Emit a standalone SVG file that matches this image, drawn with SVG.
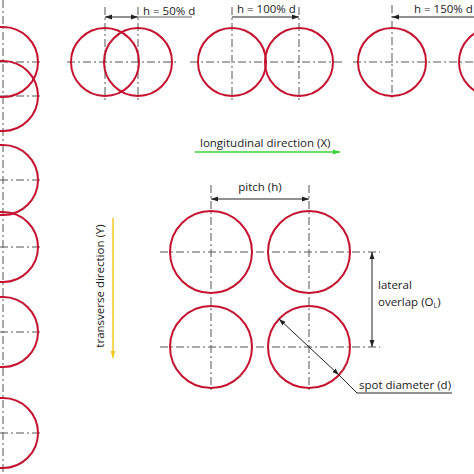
<svg xmlns="http://www.w3.org/2000/svg" width="474" height="474" viewBox="0 0 474 474">
<defs>
<marker id="ah" viewBox="0 0 10 10" refX="10" refY="5" markerWidth="7" markerHeight="7" orient="auto-start-reverse" markerUnits="userSpaceOnUse">
<path d="M0,1.5 L10,5 L0,8.5 Z" fill="#222"/>
</marker>
<marker id="ahg" viewBox="0 0 10 10" refX="10" refY="5" markerWidth="7" markerHeight="7" orient="auto" markerUnits="userSpaceOnUse">
<path d="M0,1.5 L10,5 L0,8.5 Z" fill="#3ad23a"/>
</marker>
<marker id="ahy" viewBox="0 0 10 10" refX="10" refY="5" markerWidth="7" markerHeight="7" orient="auto" markerUnits="userSpaceOnUse">
<path d="M0,1.5 L10,5 L0,8.5 Z" fill="#f2c81e"/>
</marker>
</defs>
<style>
.c{fill:none;stroke:#c4122f;stroke-width:2}
.cl{stroke:#555;stroke-width:1;stroke-dasharray:8 3 2 3;fill:none}
.d{stroke:#222;stroke-width:1;fill:none}
.t{font-family:"Open Sans","Noto Sans",sans-serif;font-size:11.5px;fill:#1a1a1a}
</style>
<rect width="474" height="474" fill="#fff"/>
<g id="centerlines">
<line class="cl" x1="3" y1="0" x2="3" y2="474"/>
<line class="cl" x1="0" y1="62" x2="43" y2="62"/>
<line class="cl" x1="0" y1="96" x2="43" y2="96"/>
<line class="cl" x1="0" y1="180" x2="43" y2="180"/>
<line class="cl" x1="0" y1="247" x2="43" y2="247"/>
<line class="cl" x1="0" y1="332" x2="43" y2="332"/>
<line class="cl" x1="0" y1="433" x2="43" y2="433"/>
<line class="cl" x1="67" y1="62" x2="176" y2="62"/>
<line class="cl" x1="105" y1="7" x2="105" y2="102"/>
<line class="cl" x1="138" y1="7" x2="138" y2="102"/>
<line class="cl" x1="190" y1="62" x2="345" y2="62"/>
<line class="cl" x1="232" y1="7" x2="232" y2="102"/>
<line class="cl" x1="299" y1="7" x2="299" y2="102"/>
<line class="cl" x1="353" y1="62" x2="474" y2="62"/>
<line class="cl" x1="392" y1="5" x2="392" y2="100"/>
<line class="cl" x1="160" y1="252" x2="380" y2="252"/>
<line class="cl" x1="160" y1="347" x2="380" y2="347"/>
<line class="cl" x1="211" y1="185" x2="211" y2="393"/>
<line class="cl" x1="309" y1="185" x2="309" y2="393"/>
</g>
<g id="left-column">
<circle class="c" cx="3" cy="62" r="35"/>
<circle class="c" cx="3" cy="96" r="35"/>
<circle class="c" cx="3" cy="180" r="35"/>
<circle class="c" cx="3" cy="247" r="35"/>
<circle class="c" cx="3" cy="332" r="35"/>
<circle class="c" cx="3" cy="433" r="35"/>
</g>
<g id="h50">
<circle class="c" cx="105" cy="62" r="34"/>
<circle class="c" cx="138" cy="62" r="34"/>
<text class="t" x="143" y="15">h = 50% d</text>
</g>
<g id="h100">
<circle class="c" cx="232" cy="62" r="34"/>
<circle class="c" cx="299" cy="62" r="34"/>
<text class="t" x="237" y="13">h = 100% d</text>
</g>
<g id="h150">
<circle class="c" cx="392" cy="62" r="34"/>
<circle class="c" cx="493" cy="62" r="34"/>
<text class="t" x="414" y="13">h = 150% d</text>
</g>
<g id="grid">
<circle class="c" cx="211" cy="252" r="41"/>
<circle class="c" cx="309" cy="252" r="41"/>
<circle class="c" cx="211" cy="347" r="41"/>
<circle class="c" cx="309" cy="347" r="41"/>
</g>
<g id="labels">
<text class="t" x="200" y="147">longitudinal direction (X)</text>
<text class="t" transform="translate(104,286) rotate(-90)" text-anchor="middle">transverse direction (Y)</text>
<text class="t" x="260" y="191" text-anchor="middle">pitch (h)</text>
<text class="t" x="378" y="289">lateral</text>
<text class="t" x="378" y="306">overlap (O<tspan font-size="7" dy="2">L</tspan><tspan dy="-2">)</tspan></text>
<text class="t" x="359" y="389">spot diameter (d)</text>
</g>
<g id="connectors">
<line class="d" x1="105" y1="17" x2="138" y2="17" marker-start="url(#ah)" marker-end="url(#ah)"/>
<line x1="138" y1="17" x2="192" y2="17" stroke="#666" stroke-width="1.2"/>
<line class="d" x1="232" y1="17" x2="299" y2="17" marker-end="url(#ah)"/>
<line class="d" x1="474" y1="17" x2="392" y2="17" marker-end="url(#ah)"/>
<line x1="195" y1="152" x2="340" y2="152" stroke="#3ad23a" stroke-width="1.5" marker-end="url(#ahg)"/>
<line x1="113" y1="218" x2="113" y2="358" stroke="#f2c81e" stroke-width="1.5" marker-end="url(#ahy)"/>
<line class="d" x1="211" y1="199" x2="309" y2="199" marker-start="url(#ah)" marker-end="url(#ah)"/>
<line class="d" x1="372" y1="252" x2="372" y2="347" marker-start="url(#ah)" marker-end="url(#ah)"/>
<line class="d" x1="279" y1="319" x2="339" y2="375" marker-start="url(#ah)" marker-end="url(#ah)"/>
<polyline class="d" stroke="#444" points="339,375 357,393 452,393"/>
</g>
</svg>
